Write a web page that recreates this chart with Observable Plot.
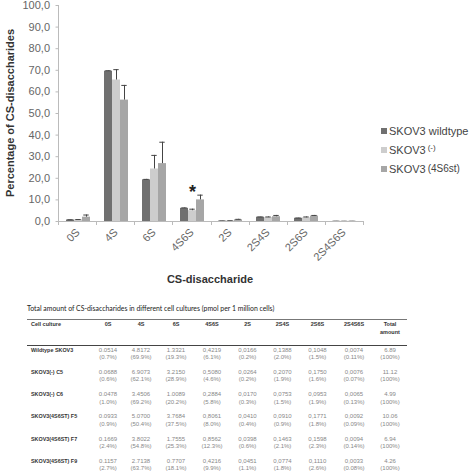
<!DOCTYPE html>
<html><head><meta charset="utf-8">
<script src="https://cdn.jsdelivr.net/npm/d3@7"></script>
<script src="https://cdn.jsdelivr.net/npm/@observablehq/plot@0.6"></script>
<style>
html,body{margin:0;padding:0;background:#fff;}
#wrap{position:relative;width:474px;height:474px;overflow:hidden;background:#fff;font-family:"Liberation Sans",Arial,sans-serif;}
#chart{position:absolute;left:0;top:0;}
.ytitle{position:absolute;left:10px;top:113px;transform:translate(-50%,-50%) rotate(-90deg);white-space:nowrap;font-weight:bold;font-size:11px;color:#333;}
.xtitle{position:absolute;left:210px;top:279px;transform:translate(-50%,-50%);white-space:nowrap;font-weight:bold;font-size:11px;color:#333;}
.legend{position:absolute;left:381px;top:121px;font-size:11px;color:#444;}
.legend .row{height:19px;display:flex;align-items:center;white-space:nowrap;}
.legend .sw{display:inline-block;width:6px;height:6px;margin-right:2px;}
.legend .sup{font-size:8px;position:relative;top:-2px;margin-left:2px;}
.legend .sm{font-size:10px;margin-left:2px;}
.tbl{position:absolute;left:27px;top:302px;width:380px;}
.tbl .ttl{font-family:Lato,"Open Sans",sans-serif;font-size:6.9px;color:#222;height:17px;line-height:12px;white-space:nowrap;}
.tbl table{border-collapse:collapse;table-layout:fixed;width:380px;}
.tbl th{font-size:5.5px;font-weight:bold;color:#333;line-height:7.5px;vertical-align:top;padding:1px 0 9px;text-align:center;border-top:1px solid #777;border-bottom:1.5px solid #444;}
.tbl th.lab{text-align:left;padding-left:4px;}
.tbl td{font-size:6px;color:#888;line-height:7.5px;vertical-align:top;padding:0.5px 0 6.8px;text-align:center;white-space:nowrap;}
.tbl td.lab{text-align:left;padding-left:4px;font-weight:bold;font-size:5.4px;color:#333;}
</style></head><body><div id="wrap"><div id="chart"></div></div>
<script>
// ---- chart data ----
const categories = ["0S","4S","6S","4S6S","2S","2S4S","2S6S","2S4S6S"];
const series = ["SKOV3 wildtype","SKOV3 (-)","SKOV3 (4S6st)"];
const wildtype    = [0.7, 69.6, 19.3, 6.1, 0.2, 2.0, 1.5, 0.1];
const wildtypeErr = [0.1, 0.2, 0.2, 0.2, 0.05, 0.1, 0.1, 0.02];
const negative    = [0.8, 65.5, 24.3, 5.0, 0.3, 1.8, 1.7, 0.1];
const negativeErr = [0.1, 4.8, 6.3, 0.7, 0.05, 0.3, 0.4, 0.02];
const sulfo       = [2.0, 56.2, 26.8, 10.0, 0.8, 2.2, 2.5, 0.1];
const sulfoErr    = [1.0, 6.8, 9.9, 2.2, 0.2, 0.6, 0.3, 0.02];
const yTicks = [0,10,20,30,40,50,60,70,80,90,100];
const legendMain = ["SKOV3 wildtype","SKOV3","SKOV3"];
const legendSuffix = ["","(-)","(4S6st)"];
const significance = [{category:"4S6S", series:"SKOV3 (-)", y:13.5, label:"*"}];

// ---- table data ----
const tableTitle = "Total amount of CS-disaccharides in different cell cultures (pmol per 1 million cells)";
const tableHeader = ["Cell culture","0S","4S","6S","4S6S","2S","2S4S","2S6S","2S4S6S","Total amount"];
const cellCultures = ["Wildtype SKOV3","SKOV3(-) C5","SKOV3(-) C6","SKOV3(4S6ST) F5","SKOV3(4S6ST) F7","SKOV3(4S6ST) F9"];
const amounts = [
 ["0.0514","4.8172","1.3321","0,4219","0,0166","0,1388","0,1048","0,0074","6.89"],
 ["0.0688","6.9073","3.2150","0,5080","0,0264","0,2070","0,1750","0,0076","11.12"],
 ["0.0478","3.4506","1.0089","0,2884","0,0170","0,0753","0,0953","0,0065","4.99"],
 ["0.0933","5.0700","3.7684","0,8061","0,0410","0,0910","0,1771","0,0092","10.06"],
 ["0.1669","3.8022","1.7555","0,8562","0,0398","0,1463","0,1598","0,0094","6.94"],
 ["0.1157","2.7138","0.7707","0,4216","0,0451","0,0774","0,1110","0,0033","4.26"]
];
const shares = [
 ["(0.7%)","(69.9%)","(19.3%)","(6.1%)","(0.2%)","(2.0%)","(1.5%)","(0.11%)","(100%)"],
 ["(0.6%)","(62.1%)","(28.9%)","(4.6%)","(0.2%)","(1.9%)","(1.6%)","(0.07%)","(100%)"],
 ["(1.0%)","(69.2%)","(20.2%)","(5.8%)","(0.3%)","(1.5%)","(1.9%)","(0.13%)","(100%)"],
 ["(0.9%)","(50.4%)","(37.5%)","(8.0%)","(0.4%)","(0.9%)","(1.8%)","(0.09%)","(100%)"],
 ["(2.4%)","(54.8%)","(25.3%)","(12.3%)","(0.6%)","(2.1%)","(2.3%)","(0.14%)","(100%)"],
 ["(2.7%)","(63.7%)","(18.1%)","(9.9%)","(1.1%)","(1.8%)","(2.6%)","(0.08%)","(100%)"]
];

// ---- build ----
const colors = ["#707070","#cdcdcd","#a6a6a6"];
const vals = [wildtype, negative, sulfo];
const errs = [wildtypeErr, negativeErr, sulfoErr];
const data = categories.flatMap((c, i) => series.map((s, j) => ({
  category: c, series: s, value: vals[j][i], top: vals[j][i] + errs[j][i]
})));

const W = 474, H = 290, ML = 58, MR = 111, MT = 5, MB = 69;
const padInner = 0.34, padOuter = 0.17;
const outerGap = (W - ML - MR) / categories.length * padOuter;

const plot = Plot.plot({
  width: W, height: H,
  marginLeft: ML, marginRight: MR, marginTop: MT, marginBottom: MB,
  style: {fontFamily: '"Liberation Sans", Arial, sans-serif', fontSize: "11px", color: "#666", background: "white", overflow: "visible"},
  fx: {domain: categories, paddingInner: padInner, paddingOuter: padOuter, label: null},
  x: {domain: series, padding: 0, axis: null},
  y: {domain: [0, 100], label: null},
  color: {domain: series, range: colors},
  marks: [
    Plot.axisY({ticks: yTicks, tickFormat: d => d.toFixed(1).replace(".", ","), tickSize: 3, tickPadding: 6, dx: -outerGap, stroke: "#bbb", fill: "#666", label: null}),
    Plot.axisFx({anchor: "bottom", tickRotate: -45, tickSize: 0, tickPadding: 9, fill: "#666", label: null}),
    Plot.barY(data, {fx: "category", x: "series", y: "value", fill: "series"}),
    Plot.ruleX(data, {fx: "category", x: "series", y1: "value", y2: "top", stroke: "#444", strokeWidth: 1}),
    Plot.tickY(data, {fx: "category", x: "series", y: "top", stroke: "#444", strokeWidth: 1, insetLeft: 1.3, insetRight: 1.3}),
    Plot.text(significance, {fx: "category", x: "series", y: "y", text: "label", fontSize: 18, fontWeight: "bold", fill: "#222"})
  ]
});
document.getElementById("chart").appendChild(plot);

// axis lines and category separators from the plot's scales
const yS = plot.scale("y");
const r0 = ML, r1 = W - MR;
const step = (r1 - r0) / categories.length;
const y0 = yS.apply(0), y100 = yS.apply(100);
const g = d3.select(plot).append("g").attr("stroke", "#bbb").attr("stroke-width", 1);
g.append("line").attr("x1", r0 + 0.5).attr("x2", r0 + 0.5).attr("y1", y100).attr("y2", y0);
g.append("line").attr("x1", r0).attr("x2", r1).attr("y1", Math.round(y0) + 0.5).attr("y2", Math.round(y0) + 0.5);
g.selectAll("line.sep").data(d3.range(categories.length + 1)).join("line").attr("class", "sep")
  .attr("x1", i => Math.round(r0 + i * step) + 0.5).attr("x2", i => Math.round(r0 + i * step) + 0.5)
  .attr("y1", y0).attr("y2", y0 + 4);

// titles
const wrap = document.getElementById("wrap");
const yt = document.createElement("div"); yt.className = "ytitle"; yt.textContent = "Percentage of CS-disaccharides"; wrap.appendChild(yt);
const xt = document.createElement("div"); xt.className = "xtitle"; xt.textContent = "CS-disaccharide"; wrap.appendChild(xt);

// legend
const lg = document.createElement("div"); lg.className = "legend";
series.forEach((s, j) => {
  const row = document.createElement("div"); row.className = "row";
  const sw = document.createElement("span"); sw.className = "sw"; sw.style.background = colors[j]; row.appendChild(sw);
  const t = document.createElement("span"); t.textContent = legendMain[j]; row.appendChild(t);
  if (legendSuffix[j]) {
    const sfx = document.createElement("span");
    sfx.className = legendSuffix[j] === "(-)" ? "sup" : "sm";
    sfx.textContent = legendSuffix[j]; row.appendChild(sfx);
  }
  lg.appendChild(row);
});
wrap.appendChild(lg);

// table
const colWidths = [65,32,34,36,36,35,35,35,38,34];
const tb = document.createElement("div"); tb.className = "tbl";
const ttl = document.createElement("div"); ttl.className = "ttl"; ttl.textContent = tableTitle; tb.appendChild(ttl);
const table = document.createElement("table");
const cg = document.createElement("colgroup");
colWidths.forEach(w => { const c = document.createElement("col"); c.style.width = w + "px"; cg.appendChild(c); });
table.appendChild(cg);
const hr = document.createElement("tr");
tableHeader.forEach((h, k) => {
  const th = document.createElement("th");
  if (k === 0) th.className = "lab";
  if (k === tableHeader.length - 1) {
    h.split(" ").forEach((p, q) => { if (q) th.appendChild(document.createElement("br")); th.appendChild(document.createTextNode(p)); });
  } else th.textContent = h;
  hr.appendChild(th);
});
table.appendChild(hr);
cellCultures.forEach((name, r) => {
  const tr = document.createElement("tr");
  const td0 = document.createElement("td"); td0.className = "lab"; td0.textContent = name; tr.appendChild(td0);
  amounts[r].forEach((a, k) => {
    const td = document.createElement("td");
    td.appendChild(document.createTextNode(a));
    td.appendChild(document.createElement("br"));
    td.appendChild(document.createTextNode(shares[r][k]));
    tr.appendChild(td);
  });
  table.appendChild(tr);
});
tb.appendChild(table);
wrap.appendChild(tb);
</script></body></html>
